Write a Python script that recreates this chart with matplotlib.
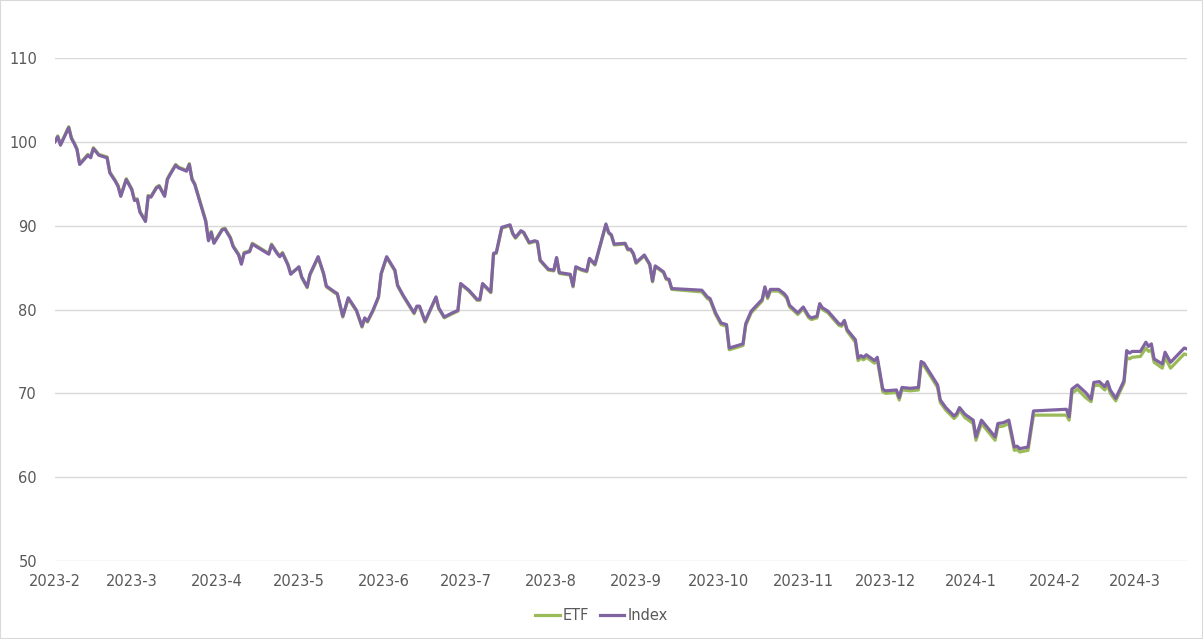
import matplotlib
matplotlib.use('Agg')
import matplotlib.pyplot as plt
import matplotlib.dates as mdates
from matplotlib.patches import Rectangle
import pandas as pd

START = '2023-02-13'

# calendar-day offsets from START for each plotted point
day_offset = [
    0, 1, 2, 5, 6, 7, 8, 9, 12, 13, 14, 16, 19, 20, 22, 23, 24, 26, 28, 29,
    30, 31, 33, 34, 35, 37, 38, 40, 41, 42, 44, 45, 48, 49, 50, 51, 55, 56, 57, 58,
    61, 62, 64, 65, 67, 68, 69, 71, 72, 78, 79, 81, 82, 83, 84, 85, 86,
    89, 90, 92, 93, 96, 98, 99, 102, 103, 105, 107, 110, 112, 113, 114, 116, 118, 119, 121,
    124, 125, 127, 131, 132, 133, 135, 139, 140, 142, 145, 147, 148, 151, 154, 155, 156, 159,
    160, 161, 163, 166, 167, 168, 170, 171, 173, 175, 176, 177, 180, 182, 183, 184, 188, 189,
    190, 192, 194, 195, 197, 201, 202, 203, 204, 208, 209, 210, 211, 212, 215, 217, 218, 219,
    222, 223, 224, 225,
    236, 238, 239, 241, 243, 245, 246, 251, 252, 254, 258, 259, 260, 261, 264, 266, 267, 268,
    271, 273, 275, 276, 278, 279, 280, 282, 286, 287, 288, 289,
    292, 293, 294, 295, 296, 299, 300, 302, 303, 307, 308, 309, 312, 315, 316, 317, 322, 323,
    325, 328, 329, 330,
    332, 335, 336, 338, 343, 344, 346, 348, 350, 351, 352, 355, 357,
    369, 370, 371, 373, 376, 378, 379, 381, 383, 384, 385, 387, 390, 391, 392, 393, 396, 398,
    399, 400, 401, 404, 405, 407, 412, 413,
]

index_vals = [
    100.0, 100.6, 99.6, 101.7, 100.4, 99.8, 99.1, 97.3, 98.4, 98.1, 99.2, 98.4, 98.1, 96.3, 95.3, 94.7, 93.5, 95.5, 94.3, 93.0,
    93.1, 91.6, 90.5, 93.5, 93.4, 94.5, 94.7, 93.5, 95.5, 96.1, 97.2, 96.9, 96.5, 97.3, 95.5, 94.9, 90.5, 88.2, 89.2, 87.9,
    89.5, 89.6, 88.5, 87.5, 86.5, 85.4, 86.7, 86.9, 87.8, 86.6, 87.7, 86.7, 86.3, 86.7, 86.0, 85.3, 84.2,
    85.1, 83.9, 82.7, 84.2, 86.3, 84.3, 82.8, 82.1, 81.9, 79.2, 81.4, 79.9, 78.0, 79.0, 78.6, 79.9, 81.5, 84.3, 86.3,
    84.7, 82.9, 81.7, 79.6, 80.4, 80.4, 78.6, 81.5, 80.2, 79.1, 79.6, 79.9, 83.1, 82.3, 81.2, 81.2, 83.1, 82.1,
    86.7, 86.8, 89.8, 90.1, 89.1, 88.6, 89.4, 89.2, 88.0, 88.2, 88.1, 85.9, 84.8, 84.7, 86.2, 84.4, 84.2, 82.8,
    85.1, 84.8, 84.6, 86.1, 85.4, 90.2, 89.2, 88.9, 87.8, 87.9, 87.2, 87.2, 86.7, 85.6, 86.5, 85.4, 83.4, 85.2,
    84.5, 83.7, 83.6, 82.5,
    82.3, 81.5, 81.3, 79.6, 78.4, 78.2, 75.4, 75.9, 78.3, 79.8, 81.2, 82.7, 81.5, 82.4, 82.4, 81.9, 81.5, 80.5,
    79.6, 80.3, 79.2, 79.0, 79.2, 80.7, 80.2, 79.8, 78.3, 78.2, 78.7, 77.6,
    76.4, 74.2, 74.5, 74.3, 74.6, 73.9, 74.3, 70.5, 70.3, 70.4, 69.5, 70.7, 70.6, 70.7, 73.8, 73.6, 71.0, 69.2,
    68.3, 67.3, 67.6, 68.3,
    67.5, 66.8, 64.8, 66.8, 64.8, 66.4, 66.5, 66.8, 63.6, 63.7, 63.4, 63.6, 67.9,
    68.1, 67.2, 70.5, 71.0, 70.1, 69.3, 71.3, 71.4, 70.8, 71.4, 70.4, 69.4, 71.5, 75.1, 74.8, 75.0, 75.0, 76.1,
    75.6, 75.9, 74.1, 73.5, 74.9, 73.7, 75.4, 75.3,
]

etf_vals = [
    100.1, 100.7, 99.7, 101.8, 100.5, 99.9, 99.2, 97.4, 98.5, 98.2, 99.3, 98.5, 98.2, 96.4, 95.4, 94.8, 93.6, 95.6, 94.4, 93.1,
    93.2, 91.7, 90.6, 93.6, 93.5, 94.6, 94.8, 93.6, 95.6, 96.2, 97.3, 97.0, 96.6, 97.4, 95.6, 95.0, 90.6, 88.3, 89.3, 88.0,
    89.6, 89.7, 88.6, 87.6, 86.6, 85.5, 86.8, 87.0, 87.9, 86.7, 87.8, 86.8, 86.4, 86.8, 86.1, 85.4, 84.3,
    85.0, 83.8, 82.6, 84.1, 86.2, 84.2, 82.7, 82.0, 81.8, 79.1, 81.3, 79.8, 77.9, 78.9, 78.5, 79.8, 81.4, 84.2, 86.2,
    84.6, 82.8, 81.6, 79.5, 80.3, 80.3, 78.5, 81.4, 80.1, 79.0, 79.5, 79.8, 83.0, 82.2, 81.1, 81.1, 83.0, 82.0,
    86.6, 86.7, 89.7, 90.0, 89.0, 88.5, 89.3, 89.1, 87.9, 88.1, 88.0, 85.8, 84.7, 84.6, 86.1, 84.3, 84.1, 82.7,
    85.0, 84.7, 84.5, 86.0, 85.3, 90.1, 89.1, 88.8, 87.7, 87.8, 87.1, 87.1, 86.6, 85.5, 86.4, 85.3, 83.3, 85.1,
    84.4, 83.6, 83.5, 82.4,
    82.1, 81.3, 81.1, 79.4, 78.2, 78.0, 75.2, 75.7, 78.1, 79.6, 81.0, 82.5, 81.3, 82.2, 82.2, 81.7, 81.3, 80.3,
    79.4, 80.1, 79.0, 78.8, 79.0, 80.5, 80.0, 79.6, 78.1, 78.0, 78.5, 77.4,
    76.1, 73.9, 74.2, 74.0, 74.3, 73.6, 74.0, 70.2, 70.0, 70.1, 69.2, 70.4, 70.3, 70.4, 73.5, 73.3, 70.7, 68.9,
    68.0, 67.0, 67.3, 68.0,
    67.1, 66.4, 64.4, 66.4, 64.4, 66.0, 66.1, 66.4, 63.2, 63.3, 63.0, 63.2, 67.4,
    67.4, 66.8, 70.0, 70.5, 69.5, 69.0, 70.9, 71.0, 70.4, 71.0, 70.0, 69.1, 71.2, 74.3, 74.1, 74.3, 74.4, 75.4,
    75.0, 75.2, 73.7, 73.0, 74.3, 73.0, 74.7, 74.6,
]

y_ticks = [50, 60, 70, 80, 90, 100, 110]

GREEN = '#9bbb59'
PURPLE = '#8064a2'
TEXT = '#595959'
GRID = '#d9d9d9'

dates = pd.Timestamp(START) + pd.to_timedelta(day_offset, unit='D')
tick_dates = pd.date_range(START, periods=14, freq=pd.DateOffset(months=1))

fig = plt.figure(figsize=(12.03, 6.39), dpi=100)
ax = fig.add_axes([55 / 1203, 78 / 639, 1132 / 1203, 503 / 639])

ax.plot(dates, etf_vals, color=GREEN, lw=2.3, label='ETF', solid_joinstyle='round')
ax.plot(dates, index_vals, color=PURPLE, lw=2.3, label='Index', solid_joinstyle='round')

ax.set_xlim(dates[0], dates[-1])
ax.set_ylim(50, 110)
ax.set_yticks(y_ticks)
ax.set_xticks(tick_dates)
ax.set_xticklabels([f'{d.year}-{d.month}' for d in tick_dates])
ax.grid(axis='y', color=GRID, lw=1)
ax.set_axisbelow(True)
for s in ax.spines.values():
    s.set_visible(False)
ax.tick_params(axis='both', length=0, colors=TEXT, labelsize=10.5)
ax.tick_params(axis='x', pad=9)
ax.tick_params(axis='y', pad=13)

fig.legend(loc='center', bbox_to_anchor=(0.5, 0.036), ncol=2, frameon=False,
           fontsize=10.5, handlelength=1.7, handletextpad=0.2, columnspacing=0.7,
           labelcolor=TEXT)

fig.patches.append(Rectangle((0, 0), 1, 1, transform=fig.transFigure, fill=False,
                             edgecolor=GRID, lw=1.5))

fig.savefig('out.png', dpi=100)
